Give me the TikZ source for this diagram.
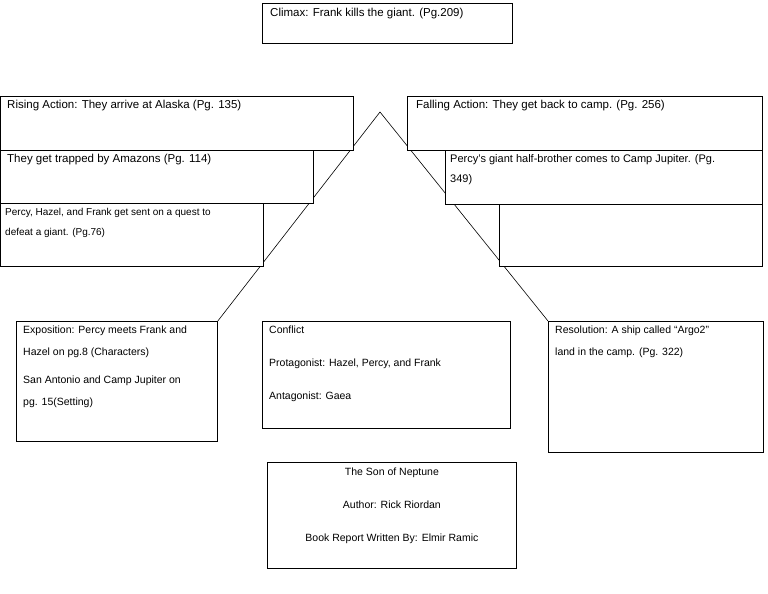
\documentclass[tikz,border=0pt]{standalone}
\usepackage{fontspec}
\setmainfont{Liberation Sans}
\begin{document}
\begin{tikzpicture}[x=1pt,y=-1pt,
  box/.style={draw,fill=white,line width=0.8pt,anchor=north west,inner sep=0pt},
  txt/.style={anchor=north west,align=left,font=\fontsize{11.5}{14}\selectfont,inner sep=3pt}]
\useasboundingbox (0,0) rectangle (768,594);
\coordinate (apex) at (380,112);
\node[box,minimum width=201pt,minimum height=120pt] (expo) at (16,321) {};
\node[box,minimum width=215pt,minimum height=131pt] (res) at (548,321) {};
\draw[line width=0.6pt] (expo.north east) -- (apex) -- (res.north west);
\node[box,minimum width=250pt,minimum height=40pt] (climax) at (262,3) {};
\node[box,minimum width=353pt,minimum height=54pt] (rising) at (0,96) {};
\node[box,minimum width=313pt,minimum height=53pt] (trap) at (0,150) {};
\node[box,minimum width=263pt,minimum height=63pt] (sent) at (0,203) {};
\node[box,minimum width=355pt,minimum height=54pt] (fall) at (407,96) {};
\node[box,minimum width=317pt,minimum height=54pt] (giant) at (445,150) {};
\node[box,minimum width=263pt,minimum height=62pt] (empty) at (499,204) {};
\node[box,minimum width=248pt,minimum height=107pt] (conf) at (262,321) {};
\node[box,minimum width=249pt,minimum height=106pt] (title) at (267,462) {};
\node[txt] (t1) at ([xshift=5pt,yshift=-2pt]climax.north west) {Climax: Frank kills the giant. (Pg.209)};
\node[txt] (t2) at ([xshift=4pt,yshift=-1pt]rising.north west) {Rising Action: They arrive at Alaska (Pg. 135)};
\node[txt] (t3) at ([xshift=4pt,yshift=-1pt]trap.north west) {They get trapped by Amazons (Pg. 114)};
\node[txt,font=\fontsize{10}{20}\selectfont] (t4) at ([xshift=2pt,yshift=-2pt]sent.north west) {Percy, Hazel, and Frank get sent on a quest to\\defeat a giant. (Pg.76)};
\node[txt] (t5) at ([xshift=6pt,yshift=-1pt]fall.north west) {Falling Action: They get back to camp. (Pg. 256)};
\node[txt,font=\fontsize{11}{20}\selectfont] (t6) at ([xshift=2pt,yshift=-1pt]giant.north west) {Percy's giant half-brother comes to Camp Jupiter. (Pg.\\349)};
\node[txt,font=\fontsize{10.5}{22}\selectfont] (t7) at ([xshift=4pt,yshift=-2pt]expo.north west) {Exposition: Percy meets Frank and\\Hazel on pg.8 (Characters)\\[6pt]San Antonio and Camp Jupiter on\\pg. 15(Setting)};
\node[txt,font=\fontsize{10.5}{33}\selectfont] (t8) at ([xshift=4pt,yshift=-2pt]conf.north west) {Conflict\\Protagonist: Hazel, Percy, and Frank\\Antagonist: Gaea};
\node[txt,font=\fontsize{10.5}{22}\selectfont] (t9) at ([xshift=4pt,yshift=-2pt]res.north west) {Resolution: A ship called “Argo2”\\land in the camp. (Pg. 322)};
\node[align=center,font=\fontsize{10.5}{33}\selectfont,anchor=north] (t10) at ([yshift=-2pt]title.north) {The Son of Neptune\\Author: Rick Riordan\\Book Report Written By: Elmir Ramic};
\end{tikzpicture}
\end{document}
